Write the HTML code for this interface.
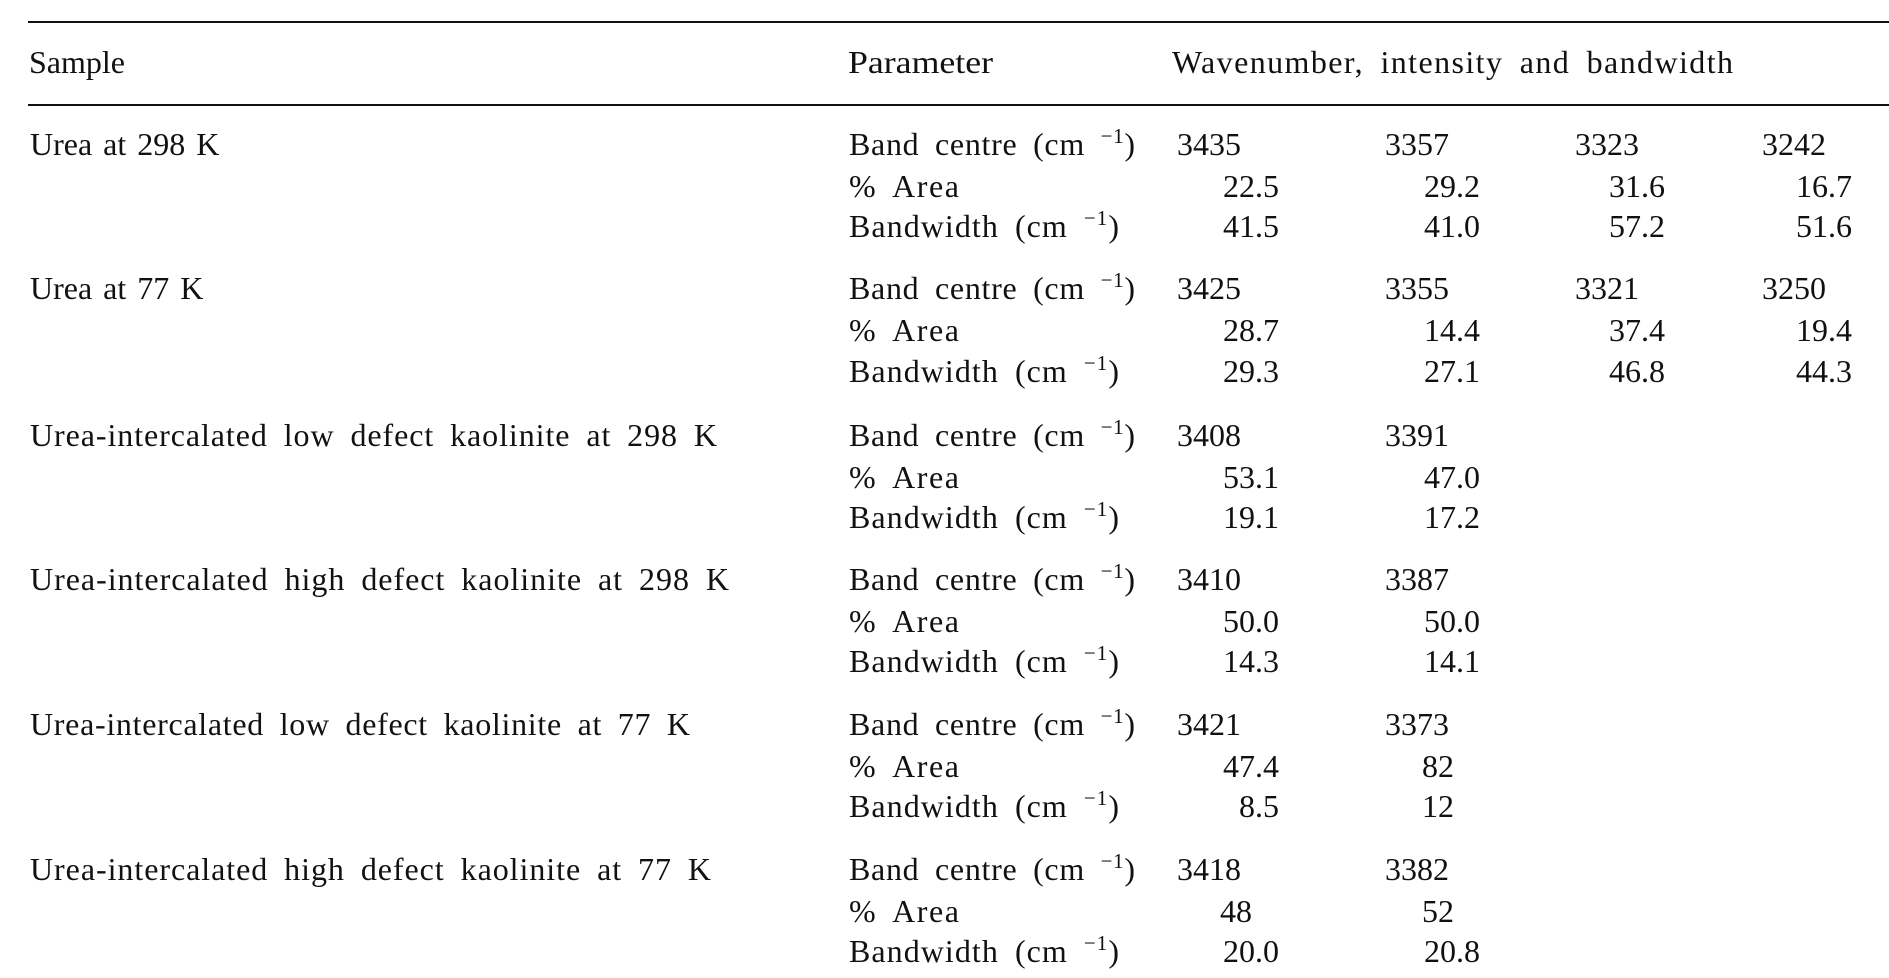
<!DOCTYPE html>
<html><head><meta charset="utf-8"><style>
html,body{margin:0;padding:0;background:#fff;width:1889px;height:978px;overflow:hidden}
svg text{font-family:"Liberation Serif",serif;font-size:32px;fill:#111}
.s{word-spacing:7px}
</style></head><body>
<svg width="1889" height="978" viewBox="0 0 1889 978" xmlns="http://www.w3.org/2000/svg">
<rect x="28" y="21" width="1861" height="2" fill="#111"/>
<rect x="28" y="104" width="1861" height="2" fill="#111"/>
<text x="29" y="73">Sample</text>
<text x="848" y="73" textLength="145" lengthAdjust="spacingAndGlyphs">Parameter</text>
<text x="1172" y="73" class="s" textLength="561" lengthAdjust="spacing">Wavenumber, intensity and bandwidth</text>

<text x="30" y="155" style="word-spacing:3px">Urea at 298 K</text>
<text x="30" y="299" style="word-spacing:3px">Urea at 77 K</text>
<g class="s">
<text x="30" y="446" textLength="687" lengthAdjust="spacing">Urea-intercalated low defect kaolinite at 298 K</text>
<text x="30" y="590" textLength="699" lengthAdjust="spacing">Urea-intercalated high defect kaolinite at 298 K</text>
<text x="30" y="735" textLength="660" lengthAdjust="spacing">Urea-intercalated low defect kaolinite at 77 K</text>
<text x="30" y="880" textLength="681" lengthAdjust="spacing">Urea-intercalated high defect kaolinite at 77 K</text>
</g>

<g class="s">
<text x="849" y="155" textLength="286" lengthAdjust="spacing">Band centre (cm <tspan font-size="21" dy="-12">−1</tspan><tspan dy="12">)</tspan></text>
<text x="849" y="197" textLength="110" lengthAdjust="spacing">% Area</text>
<text x="849" y="237" textLength="270" lengthAdjust="spacing">Bandwidth (cm <tspan font-size="21" dy="-12">−1</tspan><tspan dy="12">)</tspan></text>

<text x="849" y="299" textLength="286" lengthAdjust="spacing">Band centre (cm <tspan font-size="21" dy="-12">−1</tspan><tspan dy="12">)</tspan></text>
<text x="849" y="341" textLength="110" lengthAdjust="spacing">% Area</text>
<text x="849" y="382" textLength="270" lengthAdjust="spacing">Bandwidth (cm <tspan font-size="21" dy="-12">−1</tspan><tspan dy="12">)</tspan></text>

<text x="849" y="446" textLength="286" lengthAdjust="spacing">Band centre (cm <tspan font-size="21" dy="-12">−1</tspan><tspan dy="12">)</tspan></text>
<text x="849" y="488" textLength="110" lengthAdjust="spacing">% Area</text>
<text x="849" y="528" textLength="270" lengthAdjust="spacing">Bandwidth (cm <tspan font-size="21" dy="-12">−1</tspan><tspan dy="12">)</tspan></text>

<text x="849" y="590" textLength="286" lengthAdjust="spacing">Band centre (cm <tspan font-size="21" dy="-12">−1</tspan><tspan dy="12">)</tspan></text>
<text x="849" y="632" textLength="110" lengthAdjust="spacing">% Area</text>
<text x="849" y="672" textLength="270" lengthAdjust="spacing">Bandwidth (cm <tspan font-size="21" dy="-12">−1</tspan><tspan dy="12">)</tspan></text>

<text x="849" y="735" textLength="286" lengthAdjust="spacing">Band centre (cm <tspan font-size="21" dy="-12">−1</tspan><tspan dy="12">)</tspan></text>
<text x="849" y="777" textLength="110" lengthAdjust="spacing">% Area</text>
<text x="849" y="817" textLength="270" lengthAdjust="spacing">Bandwidth (cm <tspan font-size="21" dy="-12">−1</tspan><tspan dy="12">)</tspan></text>

<text x="849" y="880" textLength="286" lengthAdjust="spacing">Band centre (cm <tspan font-size="21" dy="-12">−1</tspan><tspan dy="12">)</tspan></text>
<text x="849" y="922" textLength="110" lengthAdjust="spacing">% Area</text>
<text x="849" y="962" textLength="270" lengthAdjust="spacing">Bandwidth (cm <tspan font-size="21" dy="-12">−1</tspan><tspan dy="12">)</tspan></text>
</g>

<g id="values">
<text x="1177" y="155">3435</text><text x="1385" y="155">3357</text><text x="1575" y="155">3323</text><text x="1762" y="155">3242</text>
<g text-anchor="end">
<text x="1279" y="197">22.5</text><text x="1480" y="197">29.2</text><text x="1665" y="197">31.6</text><text x="1852" y="197">16.7</text>
<text x="1279" y="237">41.5</text><text x="1480" y="237">41.0</text><text x="1665" y="237">57.2</text><text x="1852" y="237">51.6</text>
</g>
<text x="1177" y="299">3425</text><text x="1385" y="299">3355</text><text x="1575" y="299">3321</text><text x="1762" y="299">3250</text>
<g text-anchor="end">
<text x="1279" y="341">28.7</text><text x="1480" y="341">14.4</text><text x="1665" y="341">37.4</text><text x="1852" y="341">19.4</text>
<text x="1279" y="382">29.3</text><text x="1480" y="382">27.1</text><text x="1665" y="382">46.8</text><text x="1852" y="382">44.3</text>
</g>
<text x="1177" y="446">3408</text><text x="1385" y="446">3391</text>
<g text-anchor="end">
<text x="1279" y="488">53.1</text><text x="1480" y="488">47.0</text>
<text x="1279" y="528">19.1</text><text x="1480" y="528">17.2</text>
</g>
<text x="1177" y="590">3410</text><text x="1385" y="590">3387</text>
<g text-anchor="end">
<text x="1279" y="632">50.0</text><text x="1480" y="632">50.0</text>
<text x="1279" y="672">14.3</text><text x="1480" y="672">14.1</text>
</g>
<text x="1177" y="735">3421</text><text x="1385" y="735">3373</text>
<g text-anchor="end">
<text x="1279" y="777">47.4</text><text x="1454" y="777">82</text>
<text x="1279" y="817">8.5</text><text x="1454" y="817">12</text>
</g>
<text x="1177" y="880">3418</text><text x="1385" y="880">3382</text>
<text x="1220" y="922">48</text>
<g text-anchor="end">
<text x="1454" y="922">52</text>
<text x="1279" y="962">20.0</text><text x="1480" y="962">20.8</text>
</g>
</g>
</svg>
</body></html>
